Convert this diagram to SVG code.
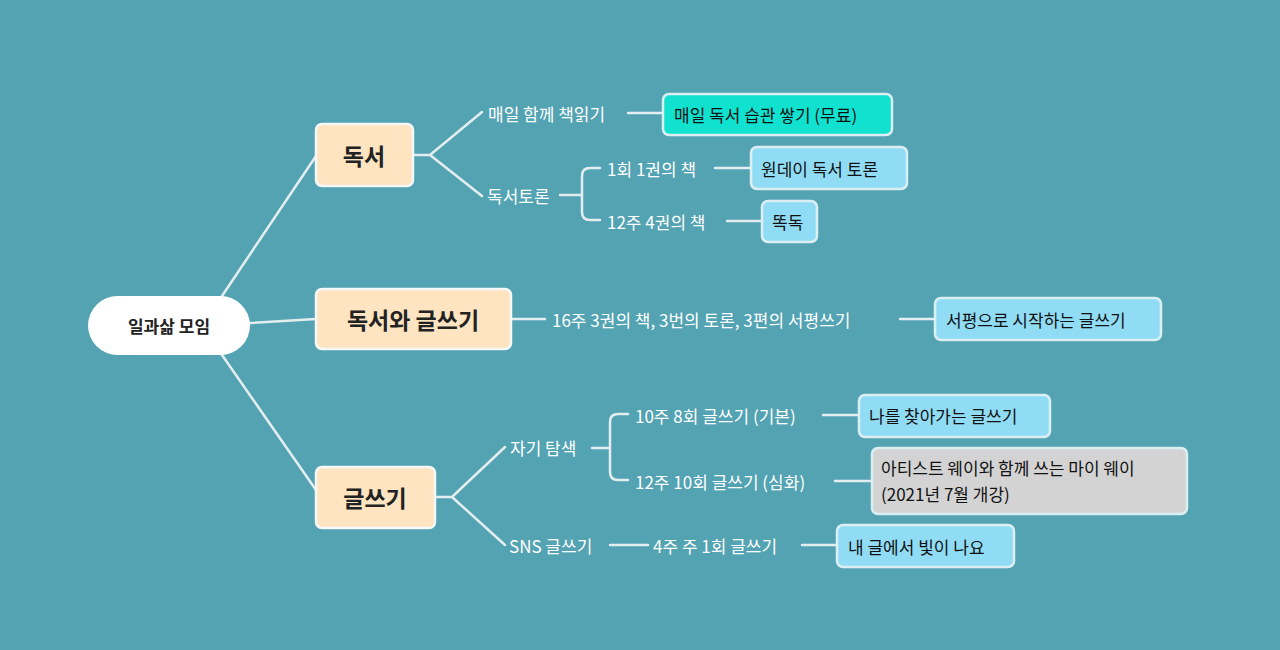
<svg xmlns="http://www.w3.org/2000/svg" width="1280" height="650" viewBox="0 0 1280 650">
<style>
text{font-family:"Noto Sans CJK KR","Noto Sans",sans-serif;}
.l{fill:#ffffff;font-size:17px;dominant-baseline:central;}
.b{fill:#111;font-size:17px;dominant-baseline:central;}
.m{fill:#222;font-size:23px;font-weight:bold;text-anchor:middle;dominant-baseline:central;}
.c{fill:none;stroke:#e4eef0;stroke-width:2.5;stroke-linecap:round;}
.n1{fill:#fee4c0;stroke:#f4f8f8;stroke-width:2.5;}
.t{stroke:#dbeef2;stroke-width:2.5;}
</style>
<rect width="1280" height="650" fill="#53a3b3"/>
<g id="connectors" class="c">
<path d="M222,296 L316,156 M250,323 L316,319 M222,355 L316,490"/>
<path d="M413,155 L430,155 L482,112 M430,155 L482,196"/>
<path d="M628,113 L662,113"/>
<path d="M560,195 L582,195 M600,168 L590,168 Q582,168 582,176 L582,212 Q582,220 590,220 L600,220"/>
<path d="M715,168 L750,168 M727,221 L761,221"/>
<path d="M511,319 L545,319 M900,319 L934,319"/>
<path d="M435,497 L452,497 L505,447 M452,497 L505,545"/>
<path d="M592,448 L610,448 M628,414 L618,414 Q610,414 610,422 L610,472 Q610,480 618,480 L628,480"/>
<path d="M823,415 L858,415 M835,481 L871,481"/>
<path d="M610,545 L648,545 M802,545 L836,545"/>
</g>
<g id="root"><rect x="88" y="296" width="162" height="59" rx="29.5" fill="#fff"/><text x="169" y="325" class="m" style="font-size:17px">일과삶 모임</text></g>
<g id="n-reading"><rect class="n1" x="316" y="124" width="97" height="62" rx="6"/><text class="m" x="364" y="155">독서</text></g>
<g id="n-rw"><rect class="n1" x="316" y="289" width="195" height="60" rx="6"/><text class="m" x="413" y="319">독서와 글쓰기</text></g>
<g id="n-writing"><rect class="n1" x="316" y="467" width="119" height="61" rx="6"/><text class="m" x="375" y="497">글쓰기</text></g>
<g id="labels">
<text class="l" x="488" y="113">매일 함께 책읽기</text>
<text class="l" x="487" y="195">독서토론</text>
<text class="l" x="607" y="168">1회 1권의 책</text>
<text class="l" x="607" y="221">12주 4권의 책</text>
<text class="l" x="552" y="319">16주 3권의 책, 3번의 토론, 3편의 서평쓰기</text>
<text class="l" x="510" y="447">자기 탐색</text>
<text class="l" x="635" y="415">10주 8회 글쓰기 (기본)</text>
<text class="l" x="635" y="481">12주 10회 글쓰기 (심화)</text>
<text class="l" x="509" y="545">SNS 글쓰기</text>
<text class="l" x="653" y="545">4주 주 1회 글쓰기</text>
</g>
<g id="b1"><rect class="t" x="663" y="94" width="229" height="41" rx="6" fill="#10e2cf"/><text class="b" x="674" y="114">매일 독서 습관 쌓기 (무료)</text></g>
<g id="b2"><rect class="t" x="751" y="147" width="156" height="42" rx="6" fill="#90dcf5"/><text class="b" x="761" y="168">원데이 독서 토론</text></g>
<g id="b3"><rect class="t" x="762" y="201" width="55" height="41" rx="6" fill="#90dcf5"/><text class="b" x="772" y="221">똑독</text></g>
<g id="b4"><rect class="t" x="935" y="298" width="226" height="42" rx="6" fill="#90dcf5"/><text class="b" x="946" y="319">서평으로 시작하는 글쓰기</text></g>
<g id="b5"><rect class="t" x="859" y="395" width="191" height="42" rx="6" fill="#90dcf5"/><text class="b" x="869" y="415">나를 찾아가는 글쓰기</text></g>
<g id="b6"><rect class="t" x="872" y="448" width="315" height="66" rx="6" fill="#d3d3d3"/><text class="b" x="881" y="467">아티스트 웨이와 함께 쓰는 마이 웨이</text><text class="b" x="881" y="493">(2021년 7월 개강)</text></g>
<g id="b7"><rect class="t" x="837" y="525" width="177" height="42" rx="6" fill="#90dcf5"/><text class="b" x="848" y="546">내 글에서 빛이 나요</text></g>
</svg>
